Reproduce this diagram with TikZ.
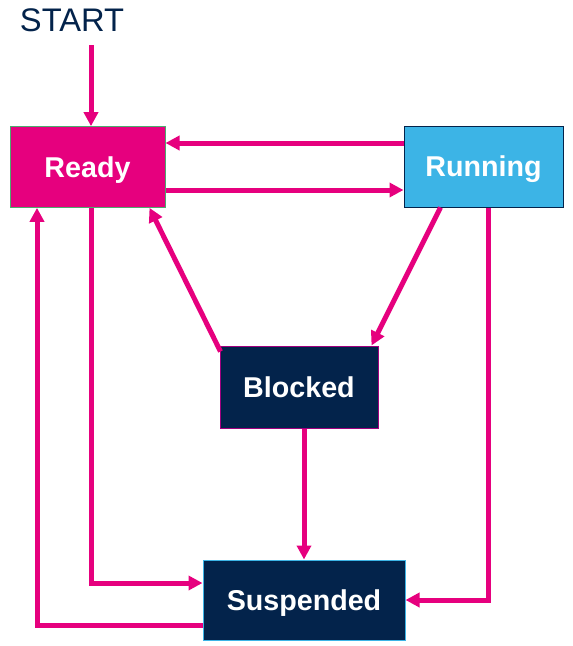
\documentclass[tikz,border=0pt]{standalone}
\usepackage{fontspec}
\setmainfont{Liberation Sans}
\usetikzlibrary{arrows.meta,calc}
\definecolor{mag}{HTML}{E6007E}
\definecolor{sky}{HTML}{3CB4E6}
\definecolor{navy}{HTML}{03234B}
\definecolor{grn}{HTML}{4DAA6E}
\definecolor{plum}{HTML}{A0007E}
\tikzset{
  state/.style={rectangle, inner sep=0pt, line width=0.75pt, text=white,
    text height=15.4pt, text depth=0pt,
    font=\fontsize{21.5}{26}\selectfont\bfseries},
  arr/.style={draw=mag, line width=3.75pt, line join=miter,
    -{Triangle[length=10.5pt,width=10.5pt]}}
}
\begin{document}
\begin{tikzpicture}[x=0.75pt,y=-0.75pt]
\useasboundingbox (0,0) rectangle (572,646);
\node[text=navy, font=\fontsize{24.5}{30}\selectfont] (start) at (72,20) {START};
\node[state, fill=mag, draw=grn, minimum width=116.25pt, minimum height=60.5pt] (ready) at (87.5,167) {Ready};
\node[state, fill=sky, draw=navy, minimum width=119.25pt, minimum height=60.75pt] (running) at (483.5,166.5) {Running};
\node[state, fill=navy, draw=plum, minimum width=118.5pt, minimum height=61.5pt] (blocked) at (299,387) {Blocked};
\node[state, fill=navy, draw=sky, minimum width=151.5pt, minimum height=60pt] (susp) at (304,600) {Suspended};
\coordinate (sa) at (91,45);
\coordinate (hTop) at (0,143);
\coordinate (hBot) at (0,190);
\coordinate (c1) at (91,583);
\coordinate (c2) at (488,600);
\coordinate (c3) at (37,625);
\draw[arr] (sa) -- (sa |- ready.north);
\draw[arr] (running.west |- hTop) -- (ready.east |- hTop);
\draw[arr] (ready.east |- hBot) -- (running.west |- hBot);
\draw[arr] ($(running.south west)+(37,0)$) -- ($(blocked.north east)+(-7,0)$);
\draw[arr] ($(blocked.north west)+(1,6)$) -- ($(ready.south west)+(140,0)$);
\draw[arr] (blocked.south -| susp.north) -- (susp.north);
\draw[arr] (ready.south -| c1) -- (c1) -- (susp.west |- c1);
\draw[arr] (running.south -| c2) -- (c2) -- (susp.east |- c2);
\draw[arr] (susp.west |- c3) -- (c3) -- (ready.south -| c3);
\end{tikzpicture}
\end{document}
